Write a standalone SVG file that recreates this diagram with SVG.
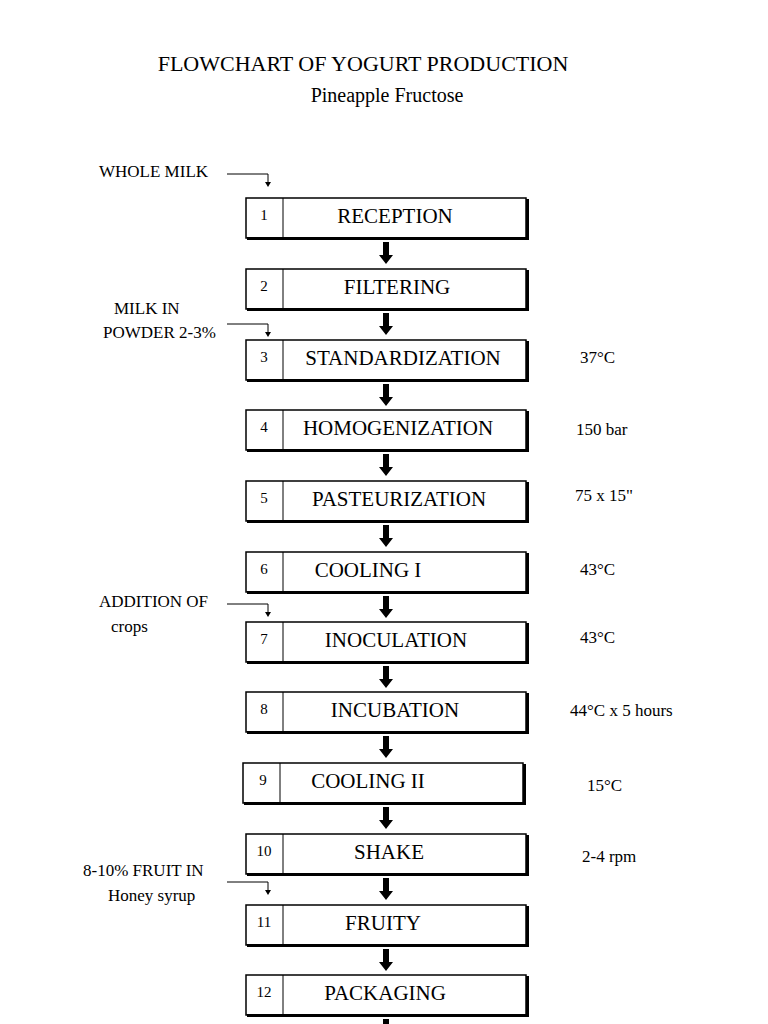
<svg xmlns="http://www.w3.org/2000/svg" width="768" height="1024" viewBox="0 0 768 1024" font-family="'Liberation Serif','Times New Roman',serif">
<style>
text{font-family:'Liberation Serif','Times New Roman',serif;fill:#000}
.t{font-size:21px;text-anchor:middle}
.n{font-size:15px;text-anchor:middle}
.s{font-size:17px}
.b{fill:#fff;stroke:#000;stroke-width:1.5}
.sh{fill:none;stroke:#000;stroke-width:3}
.l{fill:none;stroke:#000;stroke-width:1}
</style>
<defs>
<g id="box"><rect class="b" x="0" y="0" width="280" height="40"/><path class="sh" d="M1 40.5H281.5V1"/><line class="l" x1="37" y1="0" x2="37" y2="40" stroke-width="1.5"/></g>
<path id="ba" d="M-3 0H3V13H7L0 22L-7 13H-3Z" fill="#000"/>
<g id="sa"><path class="l" d="M-41 -6H0V2"/><path d="M-3 2H3L0 7Z" fill="#000"/></g>
</defs>
<text x="363" y="71" font-size="22" text-anchor="middle">FLOWCHART OF YOGURT PRODUCTION</text>
<text x="387" y="102" font-size="20" text-anchor="middle">Pineapple Fructose</text>
<g id="connectors">
<use href="#ba" x="386" y="242"/><use href="#ba" x="386" y="313"/><use href="#ba" x="386" y="384"/>
<use href="#ba" x="386" y="454"/><use href="#ba" x="386" y="525"/><use href="#ba" x="386" y="596"/>
<use href="#ba" x="386" y="666"/><use href="#ba" x="386" y="736"/><use href="#ba" x="386" y="807"/>
<use href="#ba" x="386" y="878"/><use href="#ba" x="386" y="949"/><use href="#ba" x="386" y="1019"/>
<use href="#sa" x="268" y="180"/><use href="#sa" x="268" y="330"/><use href="#sa" x="268" y="610"/><use href="#sa" x="268" y="888"/>
</g>
<text class="s" x="99" y="177">WHOLE MILK</text>
<text class="s" x="114" y="314">MILK IN</text>
<text class="s" x="103" y="338">POWDER 2-3%</text>
<text class="s" x="99" y="607">ADDITION OF</text>
<text class="s" x="111" y="632">crops</text>
<text class="s" x="83" y="876">8-10% FRUIT IN</text>
<text class="s" x="108" y="901">Honey syrup</text>
<g id="n1" transform="translate(246,198)"><use href="#box"/><text class="n" x="18" y="22">1</text><text class="t" x="149" y="25">RECEPTION</text></g>
<g id="n2" transform="translate(246,269)"><use href="#box"/><text class="n" x="18" y="22">2</text><text class="t" x="151" y="25">FILTERING</text></g>
<g id="n3" transform="translate(246,340)"><use href="#box"/><text class="n" x="18" y="22">3</text><text class="t" x="157" y="25">STANDARDIZATION</text></g>
<g id="n4" transform="translate(246,410)"><use href="#box"/><text class="n" x="18" y="22">4</text><text class="t" x="152" y="25">HOMOGENIZATION</text></g>
<g id="n5" transform="translate(246,481)"><use href="#box"/><text class="n" x="18" y="22">5</text><text class="t" x="153" y="25">PASTEURIZATION</text></g>
<g id="n6" transform="translate(246,552)"><use href="#box"/><text class="n" x="18" y="22">6</text><text class="t" x="122" y="25">COOLING I</text></g>
<g id="n7" transform="translate(246,622)"><use href="#box"/><text class="n" x="18" y="22">7</text><text class="t" x="150" y="25">INOCULATION</text></g>
<g id="n8" transform="translate(246,692)"><use href="#box"/><text class="n" x="18" y="22">8</text><text class="t" x="149" y="25">INCUBATION</text></g>
<g id="n9" transform="translate(243,763)"><use href="#box"/><text class="n" x="20" y="22">9</text><text class="t" x="125" y="25">COOLING II</text></g>
<g id="n10" transform="translate(246,834)"><use href="#box"/><text class="n" x="18" y="22">10</text><text class="t" x="143" y="25">SHAKE</text></g>
<g id="n11" transform="translate(246,905)"><use href="#box"/><text class="n" x="18" y="22">11</text><text class="t" x="137" y="25">FRUITY</text></g>
<g id="n12" transform="translate(246,975)"><use href="#box"/><text class="n" x="18" y="22">12</text><text class="t" x="139" y="25">PACKAGING</text></g>
<text class="s" x="580" y="363">37°C</text>
<text class="s" x="576" y="435">150 bar</text>
<text class="s" x="575" y="501">75 x 15"</text>
<text class="s" x="580" y="575">43°C</text>
<text class="s" x="580" y="643">43°C</text>
<text class="s" x="570" y="716">44°C x 5 hours</text>
<text class="s" x="587" y="791">15°C</text>
<text class="s" x="582" y="862">2-4 rpm</text>
</svg>
